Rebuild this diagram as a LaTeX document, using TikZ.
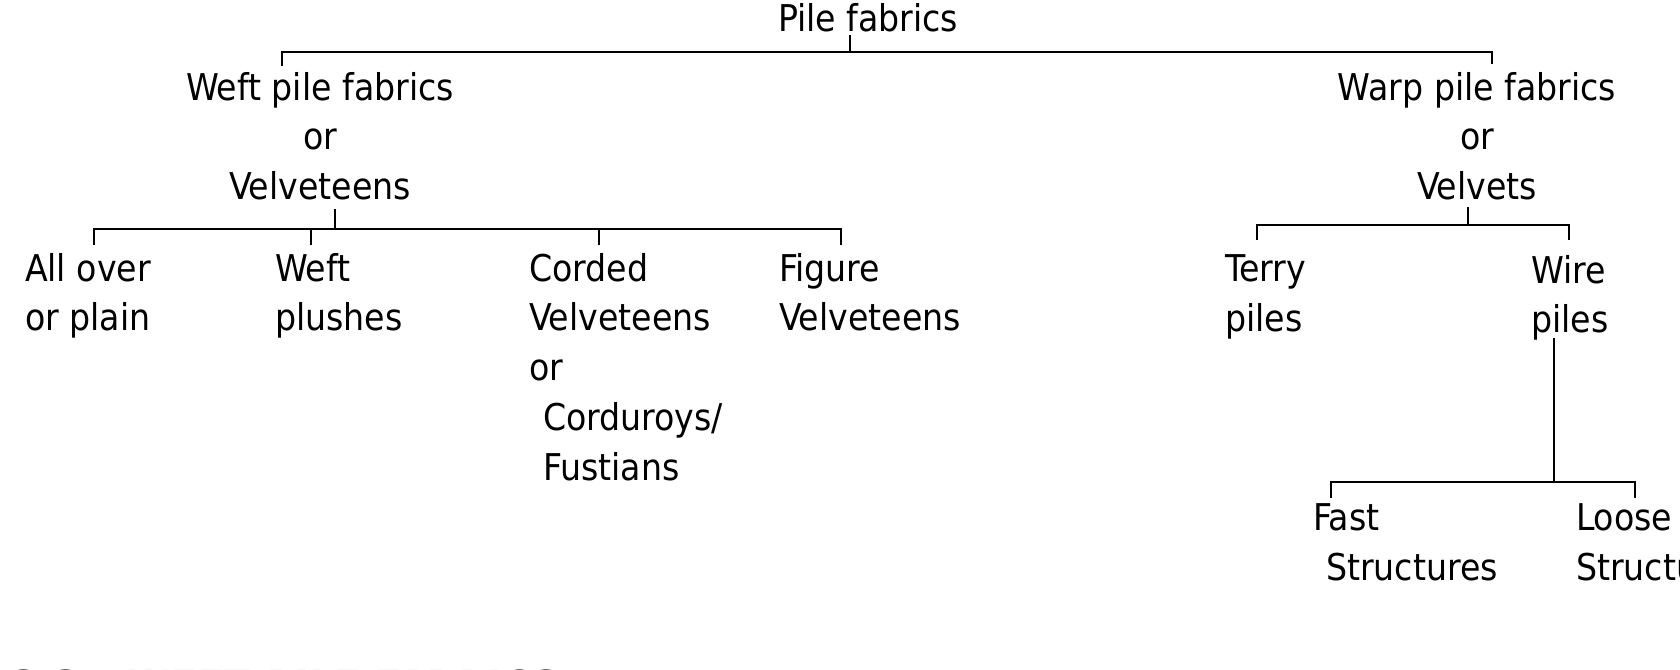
\documentclass[tikz,border=0pt]{standalone}
\usepackage{fontspec}
\setmainfont{DejaVu Sans Condensed}

\begin{document}
\begin{tikzpicture}[x=0.1mm, y=-0.1mm, line width=0.6pt, entry/.style={inner sep=0pt, anchor=north west, align=left, font=\fontsize{10.5}{14.2}\selectfont}, group/.style={entry, anchor=north, align=center}]

  \useasboundingbox (0,0) rectangle (1680,670);

  \node[entry, anchor=base west] (pile) at (777,32) {Pile fabrics};
  \node[group] (weft) at (320,71) {Weft pile fabrics\\or\\Velveteens};
  \node[group] (warp) at (1477,71) {Warp pile fabrics\\or\\Velvets};

  \node[entry] (allover) at (24,252) {All over\\or plain};
  \node[entry] (plush) at (274,252) {Weft\\plushes};
  \node[entry] (corded) at (528,252) {Corded\\Velveteens\\or\\\hspace*{1.4mm}Corduroys/\\\hspace*{1.4mm}Fustians};
  \node[entry] (figure) at (778,252) {Figure\\Velveteens};

  \node[entry] (terry) at (1224,254) {Terry\\piles};
  \node[entry] (wire) at (1530,254) {Wire\\piles};
  \node[entry] (fast) at (1312,503) {Fast\\\hspace*{1.3mm}Structures};
  \node[entry] (loose) at (1575,503) {Loose\\Structures};

  \node[inner sep=0pt, anchor=base west, font=\bfseries\fontsize{12.5}{15}\selectfont] (caption) at (10,703) {3.3\hspace*{4.6mm}WEFT PILE FABRICS};

  % tick ends
  \coordinate (pile-t) at (850,35);
  \coordinate (pile-bar) at (850,52);
  \coordinate (weft-t) at (282,66);
  \coordinate (warp-t) at (1492,64);

  \coordinate (weft-b) at (335,209);
  \coordinate (weft-bar) at (335,229);
  \coordinate (allover-t) at (94,245);
  \coordinate (plush-t) at (311,245);
  \coordinate (corded-t) at (599,245);
  \coordinate (figure-t) at (841,245);

  \coordinate (warp-b) at (1468,207);
  \coordinate (warp-bar) at (1468,225);
  \coordinate (terry-t) at (1257,240);
  \coordinate (wire-t) at (1569,240);

  \coordinate (wire-b) at (1554,338);
  \coordinate (wire-bar) at (1554,482);
  \coordinate (fast-t) at (1331,498);
  \coordinate (loose-t) at (1635,498);

  \draw (pile-t) -- (pile-bar);
  \draw (weft-t) |- (pile-bar) -| (warp-t);

  \draw (weft-b) -- (weft-bar);
  \draw (allover-t) |- (weft-bar) -| (figure-t);
  \draw (plush-t) -- (plush-t |- weft-bar);
  \draw (corded-t) -- (corded-t |- weft-bar);

  \draw (warp-b) -- (warp-bar);
  \draw (terry-t) |- (warp-bar) -| (wire-t);

  \draw (wire-b) -- (wire-bar);
  \draw (fast-t) |- (wire-bar) -| (loose-t);
\end{tikzpicture}
\end{document}
